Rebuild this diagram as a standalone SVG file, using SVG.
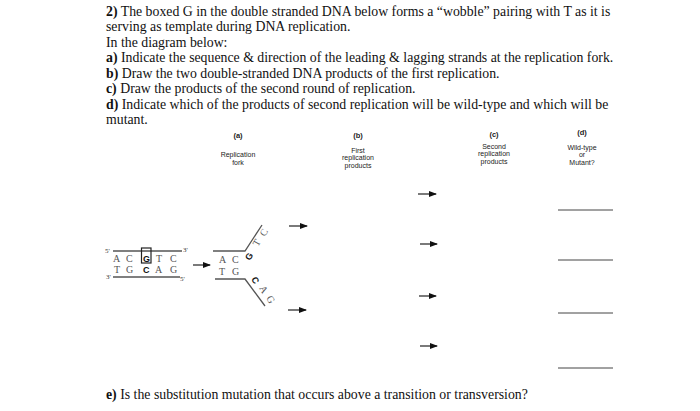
<svg xmlns="http://www.w3.org/2000/svg" width="700" height="411" viewBox="0 0 700 411">
<style>
.q{font-family:"Liberation Sans",sans-serif;font-size:13.8px;fill:#111}
.q{font-family:"Liberation Serif",serif}
.h{font-family:"Liberation Sans",sans-serif;font-size:7px;fill:#222;text-anchor:middle}
.b{font-family:"Liberation Sans",sans-serif;font-size:7.5px;font-weight:bold;fill:#222;text-anchor:middle}
.n{font-family:"Liberation Serif",serif;font-size:10px;fill:#555}
.nb{font-family:"Liberation Sans",sans-serif;font-size:9px;font-weight:bold;fill:#111}
.s{font-family:"Liberation Serif",serif;font-size:7px;fill:#333}
.l{stroke:#555;stroke-width:1.3;fill:none}
.a{stroke:#222;stroke-width:1.2;marker-end:url(#m)}
</style>
<defs><marker id="m" markerWidth="8" markerHeight="6" refX="7" refY="3" orient="auto" markerUnits="userSpaceOnUse"><path d="M0,0 L8,3 L0,6 Z" fill="#111"/></marker></defs>
<rect width="700" height="411" fill="#fff"/>
<g id="question">
<text class="q" x="106" y="16"><tspan font-weight="bold">2)</tspan> The boxed G in the double stranded DNA below forms a “wobble” pairing with T as it is</text>
<text class="q" x="106" y="31">serving as template during DNA replication.</text>
<text class="q" x="106" y="47">In the diagram below:</text>
<text class="q" x="106" y="62"><tspan font-weight="bold">a)</tspan> Indicate the sequence &amp; direction of the leading &amp; lagging strands at the replication fork.</text>
<text class="q" x="106" y="78"><tspan font-weight="bold">b)</tspan> Draw the two double-stranded DNA products of the first replication.</text>
<text class="q" x="106" y="93"><tspan font-weight="bold">c)</tspan> Draw the products of the second round of replication.</text>
<text class="q" x="106" y="109"><tspan font-weight="bold">d)</tspan> Indicate which of the products of second replication will be wild-type and which will be</text>
<text class="q" x="106" y="124">mutant.</text>
<text class="q" x="106" y="399"><tspan font-weight="bold">e)</tspan> Is the substitution mutation that occurs above a transition or transversion?</text>
</g>
<g id="headers">
<text class="b" x="238" y="138">(a)</text>
<text class="h" x="238" y="157">Replication</text><text class="h" x="238" y="164.5">fork</text>
<text class="b" x="358" y="138">(b)</text>
<text class="h" x="358" y="152.5">First</text><text class="h" x="358" y="160">replication</text><text class="h" x="358" y="167.5">products</text>
<text class="b" x="494" y="137">(c)</text>
<text class="h" x="494" y="148.5">Second</text><text class="h" x="494" y="156">replication</text><text class="h" x="494" y="163.5">products</text>
<text class="b" x="582" y="135">(d)</text>
<text class="h" x="582" y="149.5">Wild-type</text><text class="h" x="582" y="157">or</text><text class="h" x="582" y="164.5">Mutant?</text>
</g>
<g id="template">
<line class="l" x1="113" y1="251" x2="182" y2="251"/>
<line class="l" x1="113" y1="277" x2="180" y2="277"/>
<text class="s" x="105" y="253">5'</text><text class="s" x="183" y="252">3'</text>
<text class="s" x="106" y="279">3'</text><text class="s" x="180" y="281">5'</text>
<text class="n" x="113" y="262">A</text><text class="n" x="126" y="262">C</text><text class="nb" x="143" y="262">G</text><text class="n" x="156" y="262">T</text><text class="n" x="170" y="262">C</text>
<text class="n" x="114" y="273">T</text><text class="n" x="126" y="273">G</text><text class="nb" x="143" y="273">C</text><text class="n" x="155" y="273">A</text><text class="n" x="170" y="273">G</text>
<rect x="141.5" y="248" width="9.5" height="15" fill="none" stroke="#222" stroke-width="1.2"/>
</g>
<g id="fork">
<polyline class="l" points="213,251 245,251 262,225"/>
<polyline class="l" points="215,279 245,279 265,306"/>
<text class="n" x="219" y="263">A</text><text class="n" x="232" y="263">C</text>
<text class="n" x="219" y="275">T</text><text class="n" x="232" y="275">G</text>
<text class="nb" transform="translate(250,261) rotate(-60)">G</text>
<text class="n" transform="translate(258,247) rotate(-60)">T</text>
<text class="n" transform="translate(265,237) rotate(-60)">C</text>
<text class="nb" transform="translate(251,279) rotate(60)">C</text>
<text class="n" transform="translate(259,288) rotate(60)">A</text>
<text class="n" transform="translate(266,298) rotate(60)">G</text>
</g>
<g id="answers">
<line x1="558" y1="210" x2="613" y2="210" stroke="#444"/>
<line x1="558" y1="260" x2="613" y2="260" stroke="#444"/>
<line x1="558" y1="313" x2="613" y2="313" stroke="#444"/>
<line x1="558" y1="368" x2="613" y2="368" stroke="#444"/>
</g>
<g id="connectors">
<line class="a" x1="193" y1="265" x2="210" y2="265"/>
<line class="a" x1="289" y1="226" x2="307" y2="226"/>
<line class="a" x1="288" y1="310" x2="306" y2="310"/>
<line class="a" x1="418" y1="194" x2="436" y2="194"/>
<line class="a" x1="420" y1="244" x2="437" y2="244"/>
<line class="a" x1="419" y1="296" x2="436" y2="296"/>
<line class="a" x1="420" y1="346" x2="437" y2="346"/>
</g>
</svg>
